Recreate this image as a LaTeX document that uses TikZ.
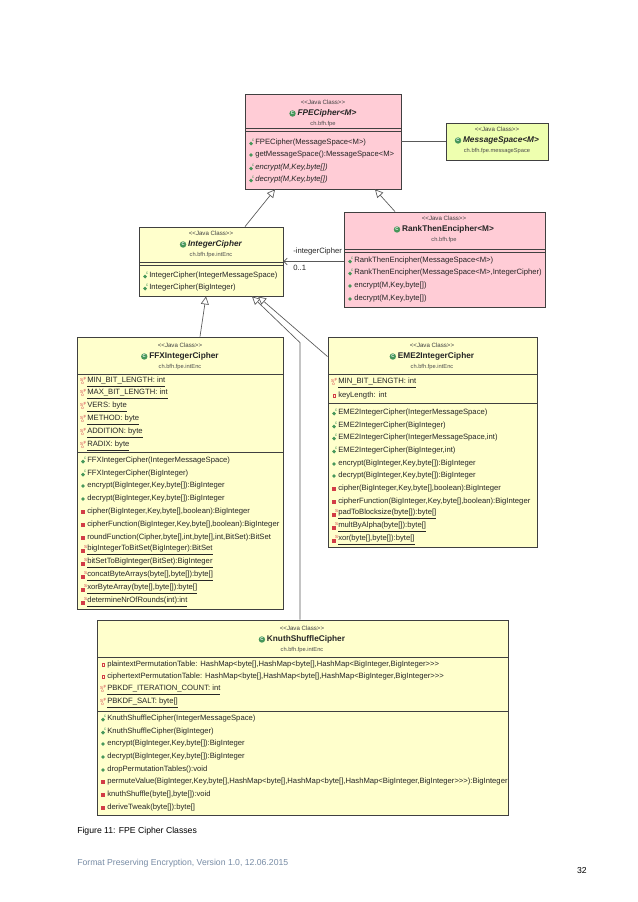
\documentclass[tikz,border=0pt]{standalone}
\usepackage{fontspec}
\setmainfont{Liberation Sans}
\usetikzlibrary{arrows.meta,fit}
\definecolor{ylw}{RGB}{255,255,204}
\definecolor{pnk}{RGB}{255,204,214}
\definecolor{msg}{RGB}{238,255,175}
\definecolor{pubg}{RGB}{70,150,90}
\definecolor{privr}{RGB}{210,60,70}
\definecolor{foot}{RGB}{120,140,165}
\newcommand\umlbox[6]{%
  \path (#2,#3) coordinate (#1-nw) (#4,#5) coordinate (#1-se);
  \node[box, fill=#6, fit=(#1-nw)(#1-se)] (#1) {};}
\newcommand\chead[5]{%
  \node[stereo] (#1-st) at (#2,#3+8) {<{}<Java Class>{}>};
  \node[cname] (#1-nm) at (#2+4,#3+19.5) {#4};
  \fill[pubg] ([xshift=-3.6pt]#1-nm.west) circle (2.4pt);
  \node[text=white,inner sep=0,font=\fontsize{3.2}{3}\selectfont\bfseries] at ([xshift=-3.6pt]#1-nm.west) {C};
  \node[pkg] (#1-pk) at (#2,#3+30.5) {#5};}
\newcommand\sepl[3]{\draw[sepst] (#1-nw |- 0,#2) -- (#1-se |- 0,#2);}
\newcommand\dsep[2]{\draw[sepst] (#1-nw |- 0,#2) -- (#1-se |- 0,#2);\draw[sepst] (#1-nw |- 0,#2+3) -- (#1-se |- 0,#2+3);}
\newcommand\rpub[3]{\fill[pubg] (#1+6,#2) circle (1.9); \node[rowtxt] at (#1+10,#2) {#3};}
\newcommand\rpriv[3]{\fill[privr] (#1+4.2,#2-1.9) rectangle ++(3.8,3.8); \node[rowtxt] at (#1+10,#2) {#3};}
\newcommand\rfld[3]{\draw[privr,line width=0.4pt] (#1+4.8,#2-1.4) rectangle ++(2.8,2.8); \node[rowtxt] at (#1+10,#2) {#3};}
\newcommand\rctor[3]{\fill[pubg] (#1+6,#2+0.6) circle (1.9); \node[tiny,text=pubg] at (#1+8.2,#2-2.8) {c}; \node[rowtxt] at (#1+10,#2) {#3};}
\newcommand\rabs[3]{\fill[pubg] (#1+6,#2+0.6) circle (1.9); \node[tiny,text=pubg] at (#1+8.2,#2-2.8) {c}; \node[rowtxt] at (#1+10,#2) {\itshape #3};}
\newcommand\rsf[3]{\node[tiny,text=privr] at (#1+4.5,#2-2) {S}; \node[tiny,text=privr] at (#1+5.5,#2+1.5) {o}; \node[tiny,text=privr] at (#1+8,#2-2.8) {F}; \node[rowtxt] at (#1+10,#2) {\underline{#3}};}
\newcommand\rps[3]{\fill[privr] (#1+4.2,#2-1.2) rectangle ++(3.8,3.8); \node[tiny,text=privr] at (#1+8.5,#2-2.8) {S}; \node[rowtxt] at (#1+10,#2) {\underline{#3}};}
\begin{document}
\begin{tikzpicture}[x=0.75pt,y=-0.75pt,
  box/.style={draw=black!75,line width=0.6pt,inner sep=0pt},
  sepst/.style={draw=black!75,line width=0.6pt},
  stereo/.style={inner sep=0,font=\fontsize{4.6}{5}\selectfont,text=black!75},
  cname/.style={inner sep=0,font=\fontsize{6.2}{7}\selectfont\bfseries,text=black!85},
  pkg/.style={inner sep=0,font=\fontsize{4.3}{5}\selectfont,text=black!70},
  rowtxt/.style={anchor=west,inner sep=0,font=\fontsize{5.75}{6}\selectfont,text=black!85},
  tiny/.style={inner sep=0,font=\fontsize{3.3}{3}\selectfont},
  inh/.style={draw=black!65,line width=0.5pt,-{Triangle[open,length=6pt,width=6pt,fill=white]}},
  asc/.style={draw=black!65,line width=0.5pt,-{Straight Barb[length=2.5pt,width=5pt]}},
  lbl/.style={anchor=west,inner sep=0,font=\fontsize{5.75}{6}\selectfont,text=black!85}]
\useasboundingbox (0,0) rectangle (638,902);
\fill[white] (0,0) rectangle (638,902);

% FPECipher
\umlbox{fpe}{245}{94}{401}{189}{pnk}
\chead{fpe}{323}{94}{\itshape FPECipher<M>}{ch.bfh.fpe}
\dsep{fpe}{128}
\rctor{245}{143}{FPECipher(MessageSpace<M>)}
\rpub{245}{155}{getMessageSpace():MessageSpace<M>}
\rabs{245}{168}{encrypt(M,Key,byte[])}
\rabs{245}{180}{decrypt(M,Key,byte[])}

% MessageSpace
\umlbox{ms}{446}{123}{548}{160}{msg}
\chead{ms}{497}{121}{\itshape MessageSpace<M>}{ch.bfh.fpe.messageSpace}

% IntegerCipher
\umlbox{intc}{139}{227}{283}{296}{ylw}
\chead{intc}{211}{225}{\itshape IntegerCipher}{ch.bfh.fpe.intEnc}
\dsep{intc}{262}
\rctor{139}{276}{IntegerCipher(IntegerMessageSpace)}
\rctor{139}{288}{IntegerCipher(BigInteger)}

% RankThenEncipher
\umlbox{rank}{344}{212}{545}{307}{pnk}
\chead{rank}{444}{210}{RankThenEncipher<M>}{ch.bfh.fpe}
\dsep{rank}{249}
\rctor{344}{261}{RankThenEncipher(MessageSpace<M>)}
\rctor{344}{273}{RankThenEncipher(MessageSpace<M>,IntegerCipher)}
\rpub{344}{286}{encrypt(M,Key,byte[])}
\rpub{344}{299}{decrypt(M,Key,byte[])}

% FFXIntegerCipher
\umlbox{ffx}{77}{337}{283}{609}{ylw}
\chead{ffx}{180}{337}{FFXIntegerCipher}{ch.bfh.fpe.intEnc}
\sepl{ffx}{374}{}
\rsf{77}{382}{MIN\_BIT\_LENGTH: int}
\rsf{77}{394}{MAX\_BIT\_LENGTH: int}
\rsf{77}{407}{VERS: byte}
\rsf{77}{420}{METHOD: byte}
\rsf{77}{433}{ADDITION: byte}
\rsf{77}{446}{RADIX: byte}
\sepl{ffx}{452}{}
\rctor{77}{461}{FFXIntegerCipher(IntegerMessageSpace)}
\rctor{77}{474}{FFXIntegerCipher(BigInteger)}
\rpub{77}{486}{encrypt(BigInteger,Key,byte[]):BigInteger}
\rpub{77}{499}{decrypt(BigInteger,Key,byte[]):BigInteger}
\rpriv{77}{512}{cipher(BigInteger,Key,byte[],boolean):BigInteger}
\rpriv{77}{525}{cipherFunction(BigInteger,Key,byte[],boolean):BigInteger}
\rpriv{77}{538}{roundFunction(Cipher,byte[],int,byte[],int,BitSet):BitSet}
\rps{77}{550}{bigIntegerToBitSet(BigInteger):BitSet}
\rps{77}{563}{bitSetToBigInteger(BitSet):BigInteger}
\rps{77}{576}{concatByteArrays(byte[],byte[]):byte[]}
\rps{77}{589}{xorByteArray(byte[],byte[]):byte[]}
\rps{77}{602}{determineNrOfRounds(int):int}

% EME2IntegerCipher
\umlbox{eme}{328}{337}{537}{547}{ylw}
\chead{eme}{432}{337}{EME2IntegerCipher}{ch.bfh.fpe.intEnc}
\sepl{eme}{374}{}
\rsf{328}{383}{MIN\_BIT\_LENGTH: int}
\rfld{328}{396}{keyLength: int}
\sepl{eme}{403}{}
\rctor{328}{413}{EME2IntegerCipher(IntegerMessageSpace)}
\rctor{328}{426}{EME2IntegerCipher(BigInteger)}
\rctor{328}{438}{EME2IntegerCipher(IntegerMessageSpace,int)}
\rctor{328}{451}{EME2IntegerCipher(BigInteger,int)}
\rpub{328}{464}{encrypt(BigInteger,Key,byte[]):BigInteger}
\rpub{328}{476}{decrypt(BigInteger,Key,byte[]):BigInteger}
\rpriv{328}{489}{cipher(BigInteger,Key,byte[],boolean):BigInteger}
\rpriv{328}{502}{cipherFunction(BigInteger,Key,byte[],boolean):BigInteger}
\rps{328}{514}{padToBlocksize(byte[]):byte[]}
\rps{328}{527}{multByAlpha(byte[]):byte[]}
\rps{328}{540}{xor(byte[],byte[]):byte[]}

% KnuthShuffleCipher
\umlbox{knuth}{97}{620}{508}{815}{ylw}
\chead{knuth}{302}{620}{KnuthShuffleCipher}{ch.bfh.fpe.intEnc}
\sepl{knuth}{657}{}
\rfld{97}{665}{plaintextPermutationTable: HashMap<byte[],HashMap<byte[],HashMap<BigInteger,BigInteger>{}>{}>}
\rfld{97}{677}{ciphertextPermutationTable: HashMap<byte[],HashMap<byte[],HashMap<BigInteger,BigInteger>{}>{}>}
\rsf{97}{690}{PBKDF\_ITERATION\_COUNT: int}
\rsf{97}{703}{PBKDF\_SALT: byte[]}
\sepl{knuth}{711}{}
\rctor{97}{719}{KnuthShuffleCipher(IntegerMessageSpace)}
\rctor{97}{732}{KnuthShuffleCipher(BigInteger)}
\rpub{97}{744}{encrypt(BigInteger,Key,byte[]):BigInteger}
\rpub{97}{757}{decrypt(BigInteger,Key,byte[]):BigInteger}
\rpub{97}{770}{dropPermutationTables():void}
\rpriv{97}{782}{permuteValue(BigInteger,Key,byte[],HashMap<byte[],HashMap<byte[],HashMap<BigInteger,BigInteger>{}>{}>):BigInteger}
\rpriv{97}{795}{knuthShuffle(byte[],byte[]):void}
\rpriv{97}{808}{deriveTweak(byte[]):byte[]}

% connectors
\draw[inh] ([xshift=25.5pt]intc.north) -- ([xshift=-36pt]fpe.south);
\draw[inh] ([xshift=-37.1pt]rank.north) -- ([xshift=39pt]fpe.south);
\draw[draw=black!65,line width=0.5pt] (fpe.east) -- (ms.west);
\draw[asc] (rank.west |- intc.east) -- (intc.east);
\node[lbl] (role) at (293,252) {-integerCipher};
\node[lbl] (mult) at (293,268) {0..1};
\draw[inh] ([xshift=15pt]ffx.north) -- ([xshift=-3.75pt]intc.south);
\draw[inh] ([xshift=-1.9pt]knuth.north) -- ++(0,-277) -- ([xshift=30.75pt]intc.south);
\draw[inh] ([yshift=-15pt]eme.north west) -- ([xshift=35.25pt]intc.south);

% caption and footer
\node[anchor=west,inner sep=0,font=\fontsize{6.5}{7}\selectfont] (cap) at (77,831) {Figure 11: FPE Cipher Classes};
\node[anchor=west,inner sep=0,font=\fontsize{6.5}{7}\selectfont,text=foot] (ft) at (77,863) {Format Preserving Encryption, Version 1.0, 12.06.2015};
\node[anchor=east,inner sep=0,font=\fontsize{6.5}{7}\selectfont] (pg) at (587,871) {32};
\end{tikzpicture}
\end{document}
